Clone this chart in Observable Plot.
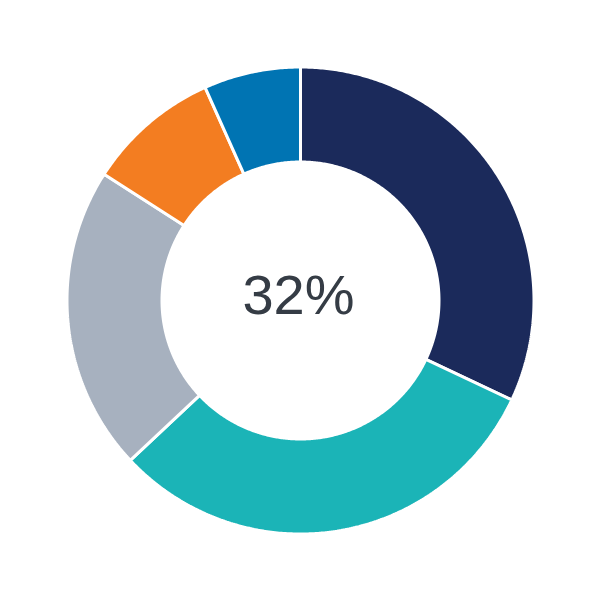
<!DOCTYPE html>
<html>
<head>
<meta charset="utf-8">
<script src="https://cdn.jsdelivr.net/npm/d3@7"></script>
<script src="https://cdn.jsdelivr.net/npm/@observablehq/plot@0.6"></script>
<style>
  html, body { margin: 0; padding: 0; background: #fff; }
  #chart { width: 600px; height: 600px; }
</style>
</head>
<body>
<div id="chart"></div>
<script>
// Data
const categories = ["A", "B", "C", "D", "E"];
const values = [32, 31, 21.1, 9.2, 6.7];
const colors = ["#1b2a5b", "#1bb4b7", "#a7b1bf", "#f37d21", "#0074b3"];
const centerLabel = ["32%"];

// Build donut slice geometries (planar, pixel units relative to center) with d3.pie
const outerR = 233.5;
const innerR = 138.5;
const pie = d3.pie().sort(null).value(d => d.value);
const arcs = pie(categories.map((c, i) => ({category: c, value: values[i]})));

function slicePolygon(a0, a1) {
  const steps = Math.max(2, Math.ceil((a1 - a0) / (Math.PI / 360)));
  const ring = [];
  for (let k = 0; k <= steps; k++) {
    const a = a0 + (a1 - a0) * k / steps;
    ring.push([outerR * Math.sin(a), -outerR * Math.cos(a)]);
  }
  for (let k = steps; k >= 0; k--) {
    const a = a0 + (a1 - a0) * k / steps;
    ring.push([innerR * Math.sin(a), -innerR * Math.cos(a)]);
  }
  ring.push(ring[0]);
  return ring;
}

const features = arcs.map(a => ({
  type: "Feature",
  properties: {category: a.data.category, value: a.data.value},
  geometry: {type: "Polygon", coordinates: [slicePolygon(a.startAngle, a.endAngle)]}
}));

const chart = Plot.plot({
  width: 600,
  height: 600,
  margin: 0,
  projection: ({width, height}) => d3.geoIdentity().translate([width / 2, height / 2]),
  color: {domain: categories, range: colors},
  marks: [
    Plot.geo(features, {
      fill: d => d.properties.category,
      stroke: "white",
      strokeWidth: 3,
      strokeLinejoin: "miter"
    }),
    Plot.text(centerLabel, {
      text: d => d,
      frameAnchor: "middle",
      fontSize: 56,
      fontFamily: "Liberation Sans, Arial, sans-serif",
      fill: "#353c45",
      dx: -2,
      dy: -4
    })
  ]
});
document.getElementById("chart").appendChild(chart);
</script>
</body>
</html>
